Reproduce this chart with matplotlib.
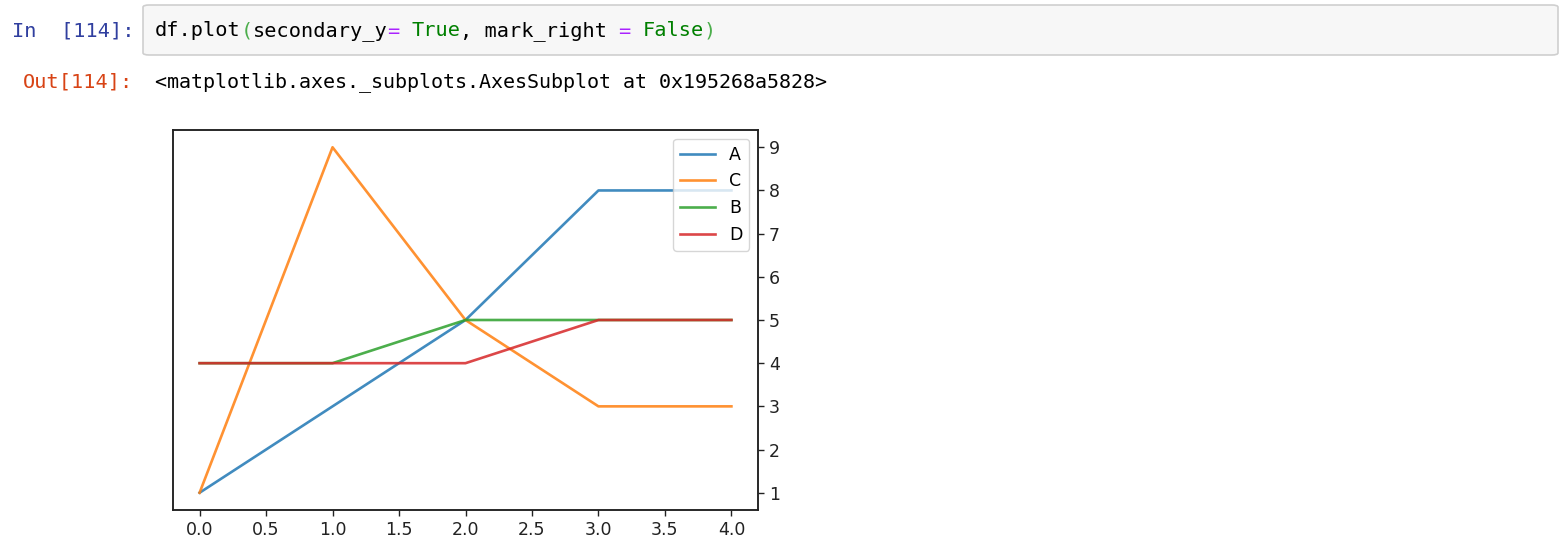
import matplotlib.pyplot as plt
from matplotlib.patches import FancyBboxPatch

# datos del DataFrame
x = [0, 1, 2, 3, 4]
A = [1, 3, 5, 8, 8]
C = [1, 9, 5, 3, 3]
B = [4, 4, 5, 5, 5]
D = [4, 4, 4, 5, 5]
series_names = ['A', 'C', 'B', 'D']
series_values = [A, C, B, D]
series_colors = ['#1f77b4', '#ff7f0e', '#2ca02c', '#d62728']

# texto de la celda del notebook
in_prompt = 'In  [114]:'
out_prompt = 'Out[114]:'
code_parts = [('df.plot', '#000000', 'normal'), ('(', '#4cae4c', 'normal'),
              ('secondary_y', '#000000', 'normal'), ('=', '#aa22ff', 'normal'),
              (' ', '#000000', 'normal'), ('True', '#008000', 'normal'),
              (', mark_right ', '#000000', 'normal'), ('=', '#aa22ff', 'normal'),
              (' ', '#000000', 'normal'), ('False', '#008000', 'normal'),
              (')', '#4cae4c', 'normal')]
out_text = '<matplotlib.axes._subplots.AxesSubplot at 0x195268a5828>'

W, H = 1566, 549
fig = plt.figure(figsize=(W / 100, H / 100), dpi=100)
mono = 'DejaVu Sans Mono'
char_w = 12.2
fs_code = 14.6

# caja de entrada
box = FancyBboxPatch((143 / W, 1 - 55 / H), (1558 - 143) / W, 50 / H,
                     boxstyle='round,pad=0,rounding_size=0.004',
                     transform=fig.transFigure, facecolor='#f7f7f7',
                     edgecolor='#cfcfcf', linewidth=1.2)
fig.patches.append(box)

fig.text(12 / W, 1 - 31 / H, in_prompt, color='#303f9f', family=mono,
         fontsize=fs_code, va='center')
pos = 155
for txt, col, wt in code_parts:
    fig.text(pos / W, 1 - 31 / H, txt, color=col, family=mono,
             fontsize=fs_code, va='center', weight=wt)
    pos += len(txt) * char_w

fig.text(23 / W, 1 - 82 / H, out_prompt, color='#d84315', family=mono,
         fontsize=fs_code, va='center')
fig.text(155 / W, 1 - 82 / H, out_text, color='#000000', family=mono,
         fontsize=fs_code * 0.985, va='center')

# grafico
ax = fig.add_axes([173 / W, 39 / H, 585 / W, 380 / H])
ax2 = ax.twinx()
for name, vals, col in zip(series_names, series_values, series_colors):
    ax2.plot(x, vals, color=col, linewidth=1.9, alpha=0.85, label=name)

ax.set_yticks([])
ax.set_xlim(-0.2, 4.2)
ax2.set_ylim(0.6, 9.4)
ax.set_xticks([0, 0.5, 1, 1.5, 2, 2.5, 3, 3.5, 4])
for a in (ax, ax2):
    a.tick_params(labelsize=12.5, length=4.4, width=1, colors='#222222')
    for s in a.spines.values():
        s.set_linewidth(1.1)
        s.set_color('#222222')

ax2.legend(loc='upper right', fontsize=12.5, handlelength=2.0)

fig.savefig('out.png', dpi=100)
